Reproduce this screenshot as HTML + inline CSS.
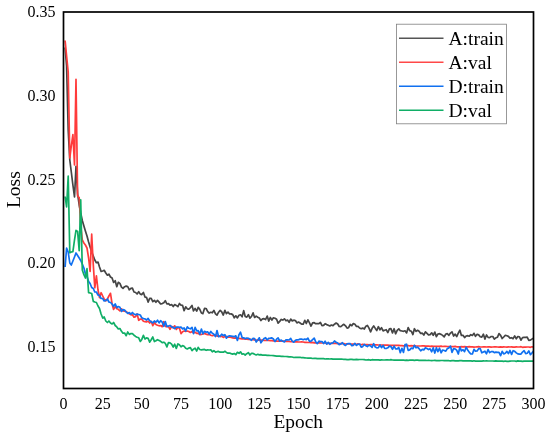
<!DOCTYPE html>
<html><head><meta charset="utf-8"><title>Loss</title>
<style>
html,body{margin:0;padding:0;background:#fff;}
svg{display:block;font-family:"Liberation Serif",serif;font-size:16px;fill:#000;}
</style></head><body>
<svg width="550" height="439" viewBox="0 0 550 439">
<rect x="0" y="0" width="550" height="439" fill="#ffffff"/>
<g>
<path d="M65.1 47.5 L66.6 66.0 L68.2 130.0 L69.8 160.0 L71.3 172.0 L72.9 185.0 L74.5 197.0 L76.0 166.4 L77.6 194.0 L79.2 205.0 L80.7 213.0 L82.3 220.5 L83.9 226.0 L85.4 231.0 L87.0 236.0 L88.6 242.0 L90.1 247.0 L91.7 252.0 L93.3 256.0 L94.8 260.0 L96.4 262.7 L98.0 262.1 L99.5 267.0 L101.1 271.4 L102.7 271.0 L104.2 270.3 L105.8 273.0 L107.4 275.2 L108.9 274.1 L110.5 277.0 L112.1 278.0 L113.6 282.5 L115.2 280.7 L116.8 286.7 L118.3 282.3 L119.9 283.4 L121.5 287.1 L123.0 288.4 L124.6 286.7 L126.2 286.1 L127.7 286.5 L129.3 289.8 L130.9 288.3 L132.4 288.1 L134.0 292.0 L135.6 292.5 L137.1 294.0 L138.7 291.7 L140.3 294.1 L141.8 294.6 L143.4 292.4 L145.0 297.1 L146.5 297.3 L148.1 302.1 L149.7 298.4 L151.2 298.3 L152.8 301.7 L154.4 300.3 L155.9 302.3 L157.5 300.4 L159.1 302.1 L160.6 304.0 L162.2 303.6 L163.8 302.8 L165.3 300.7 L166.9 304.0 L168.5 303.6 L170.0 305.2 L171.6 304.5 L173.2 306.5 L174.7 304.6 L176.3 305.4 L177.9 306.7 L179.4 303.5 L181.0 305.2 L182.6 305.4 L184.1 310.7 L185.7 306.9 L187.3 308.8 L188.8 309.1 L190.4 307.6 L192.0 305.5 L193.5 310.9 L195.1 308.5 L196.7 311.1 L198.2 307.4 L199.8 309.4 L201.4 313.0 L202.9 313.6 L204.5 308.4 L206.1 308.5 L207.6 311.4 L209.2 313.1 L210.8 312.3 L212.3 312.8 L213.9 310.4 L215.5 313.8 L217.0 315.1 L218.6 312.2 L220.2 310.3 L221.7 311.9 L223.3 315.1 L224.9 310.3 L226.4 313.7 L228.0 312.1 L229.6 314.0 L231.1 313.9 L232.7 314.6 L234.3 317.8 L235.8 315.8 L237.4 317.9 L239.0 315.2 L240.5 314.8 L242.1 316.8 L243.7 310.6 L245.2 316.5 L246.8 317.1 L248.4 314.6 L249.9 318.2 L251.5 316.5 L253.1 312.9 L254.6 317.5 L256.2 316.1 L257.8 317.2 L259.3 318.0 L260.9 320.5 L262.5 318.8 L264.0 318.7 L265.6 319.5 L267.2 316.1 L268.7 321.1 L270.3 317.5 L271.9 320.1 L273.4 317.8 L275.0 318.2 L276.6 319.3 L278.1 323.1 L279.7 321.4 L281.3 319.4 L282.8 320.1 L284.4 318.8 L286.0 320.8 L287.5 320.1 L289.1 322.3 L290.7 319.1 L292.2 320.9 L293.8 320.2 L295.4 320.5 L296.9 322.9 L298.5 322.1 L300.1 323.0 L301.6 324.1 L303.2 324.2 L304.8 320.3 L306.3 323.5 L307.9 319.9 L309.5 322.8 L311.0 326.1 L312.6 322.9 L314.2 322.7 L315.7 323.7 L317.3 323.6 L318.9 323.7 L320.4 322.5 L322.0 325.6 L323.6 325.4 L325.1 323.7 L326.7 324.6 L328.3 325.3 L329.8 326.0 L331.4 325.0 L333.0 325.6 L334.5 324.2 L336.1 323.0 L337.7 324.0 L339.2 326.5 L340.8 326.6 L342.4 325.3 L343.9 324.3 L345.5 325.8 L347.1 328.1 L348.6 327.7 L350.2 324.5 L351.8 325.7 L353.3 323.5 L354.9 324.2 L356.5 326.5 L358.0 326.4 L359.6 328.0 L361.2 328.7 L362.7 328.1 L364.3 329.0 L365.9 326.2 L367.4 325.4 L369.0 328.2 L370.6 331.8 L372.1 328.3 L373.7 326.0 L375.3 328.4 L376.8 330.5 L378.4 326.7 L380.0 329.8 L381.5 327.7 L383.1 330.9 L384.7 330.3 L386.2 329.7 L387.8 332.6 L389.4 328.9 L390.9 328.6 L392.5 332.9 L394.1 328.7 L395.6 333.8 L397.2 330.3 L398.8 328.9 L400.3 330.7 L401.9 331.0 L403.5 331.3 L405.0 330.8 L406.6 332.9 L408.2 327.6 L409.7 330.6 L411.3 331.2 L412.9 334.6 L414.4 328.7 L416.0 331.4 L417.6 330.3 L419.1 331.2 L420.7 333.4 L422.3 333.2 L423.8 335.0 L425.4 331.8 L427.0 333.4 L428.5 334.9 L430.1 334.6 L431.7 332.8 L433.2 335.3 L434.8 332.1 L436.4 336.6 L437.9 334.0 L439.5 333.7 L441.1 334.4 L442.6 335.4 L444.2 336.9 L445.8 334.0 L447.3 333.7 L448.9 335.3 L450.5 333.1 L452.0 331.8 L453.6 336.0 L455.2 334.1 L456.7 336.6 L458.3 333.2 L459.9 330.2 L461.4 335.4 L463.0 335.3 L464.6 337.6 L466.1 336.0 L467.7 335.7 L469.3 336.2 L470.8 334.7 L472.4 335.5 L474.0 333.3 L475.5 336.3 L477.1 334.3 L478.7 334.9 L480.2 336.8 L481.8 337.2 L483.4 334.2 L484.9 339.1 L486.5 335.0 L488.1 337.4 L489.6 337.6 L491.2 336.5 L492.8 336.5 L494.3 339.2 L495.9 337.8 L497.5 337.2 L499.0 333.6 L500.6 335.4 L502.2 338.5 L503.7 337.0 L505.3 335.3 L506.9 335.8 L508.4 336.4 L510.0 338.1 L511.6 337.7 L513.1 338.7 L514.7 335.9 L516.3 338.8 L517.8 336.5 L519.4 336.9 L521.0 340.2 L522.5 337.6 L524.1 337.4 L525.7 337.3 L527.2 337.1 L528.8 340.3 L530.4 340.1 L531.9 339.1 L533.5 338.3" fill="none" stroke="#454545" stroke-width="1.7" stroke-linejoin="round" stroke-linecap="butt"/>
<path d="M65.1 40.5 L66.6 56.0 L68.2 72.0 L69.8 158.0 L71.3 146.0 L72.9 134.6 L74.5 165.0 L76.0 79.3 L77.6 196.0 L79.2 197.6 L80.7 225.0 L82.3 240.0 L83.9 243.0 L85.4 245.0 L87.0 248.0 L88.6 258.0 L90.1 271.4 L91.7 234.2 L93.3 265.0 L94.8 287.8 L96.4 275.8 L98.0 290.0 L99.5 297.6 L101.1 292.7 L102.7 296.0 L104.2 299.0 L105.8 300.9 L107.4 299.0 L108.9 296.0 L110.5 293.3 L112.1 304.0 L113.6 309.4 L115.2 306.6 L116.8 308.8 L118.3 309.3 L119.9 310.9 L121.5 308.8 L123.0 310.9 L124.6 311.2 L126.2 311.6 L127.7 312.7 L129.3 313.9 L130.9 314.9 L132.4 314.8 L134.0 317.2 L135.6 316.6 L137.1 313.9 L138.7 320.3 L140.3 319.0 L141.8 319.2 L143.4 321.2 L145.0 321.7 L146.5 321.9 L148.1 321.2 L149.7 323.0 L151.2 321.3 L152.8 325.6 L154.4 322.6 L155.9 324.4 L157.5 325.2 L159.1 325.8 L160.6 325.5 L162.2 326.7 L163.8 321.6 L165.3 326.3 L166.9 326.6 L168.5 326.5 L170.0 329.3 L171.6 326.3 L173.2 327.8 L174.7 325.8 L176.3 329.4 L177.9 327.5 L179.4 328.1 L181.0 333.6 L182.6 331.7 L184.1 331.0 L185.7 331.5 L187.3 331.0 L188.8 331.5 L190.4 332.5 L192.0 331.5 L193.5 333.0 L195.1 332.2 L196.7 333.4 L198.2 333.1 L199.8 334.7 L201.4 334.5 L202.9 333.9 L204.5 333.4 L206.1 334.1 L207.6 334.6 L209.2 334.3 L210.8 335.2 L212.3 335.7 L213.9 335.3 L215.5 335.3 L217.0 336.1 L218.6 335.8 L220.2 336.6 L221.7 336.2 L223.3 337.4 L224.9 336.6 L226.4 336.4 L228.0 337.2 L229.6 337.0 L231.1 337.5 L232.7 337.8 L234.3 338.1 L235.8 337.9 L237.4 338.3 L239.0 338.4 L240.5 338.6 L242.1 338.8 L243.7 338.7 L245.2 339.1 L246.8 339.1 L248.4 339.3 L249.9 339.4 L251.5 339.5 L253.1 339.6 L254.6 339.8 L256.2 340.1 L257.8 340.0 L259.3 340.1 L260.9 340.1 L262.5 340.1 L264.0 340.3 L265.6 340.5 L267.2 340.2 L268.7 340.5 L270.3 340.6 L271.9 340.6 L273.4 340.8 L275.0 340.9 L276.6 341.1 L278.1 341.1 L279.7 341.2 L281.3 341.1 L282.8 341.2 L284.4 341.2 L286.0 341.3 L287.5 341.3 L289.1 341.5 L290.7 341.7 L292.2 341.6 L293.8 341.7 L295.4 341.8 L296.9 341.8 L298.5 342.0 L300.1 342.0 L301.6 341.9 L303.2 342.0 L304.8 342.3 L306.3 342.4 L307.9 342.5 L309.5 342.5 L311.0 342.6 L312.6 342.4 L314.2 342.9 L315.7 342.7 L317.3 343.0 L318.9 342.7 L320.4 342.9 L322.0 343.0 L323.6 343.0 L325.1 343.0 L326.7 343.3 L328.3 343.3 L329.8 343.3 L331.4 343.3 L333.0 343.3 L334.5 343.4 L336.1 343.4 L337.7 343.6 L339.2 343.7 L340.8 343.6 L342.4 343.6 L343.9 343.7 L345.5 344.0 L347.1 343.9 L348.6 344.0 L350.2 344.0 L351.8 344.1 L353.3 344.1 L354.9 344.3 L356.5 344.3 L358.0 343.9 L359.6 344.3 L361.2 344.7 L362.7 344.3 L364.3 344.5 L365.9 344.7 L367.4 344.6 L369.0 344.8 L370.6 344.5 L372.1 344.6 L373.7 344.8 L375.3 344.8 L376.8 344.8 L378.4 345.0 L380.0 345.0 L381.5 345.0 L383.1 345.0 L384.7 345.1 L386.2 345.1 L387.8 345.1 L389.4 345.3 L390.9 345.3 L392.5 345.3 L394.1 345.4 L395.6 345.3 L397.2 345.4 L398.8 345.4 L400.3 345.7 L401.9 345.6 L403.5 345.8 L405.0 345.8 L406.6 345.6 L408.2 345.6 L409.7 345.8 L411.3 345.7 L412.9 345.8 L414.4 345.7 L416.0 346.0 L417.6 346.0 L419.1 346.0 L420.7 346.0 L422.3 345.9 L423.8 345.8 L425.4 346.1 L427.0 346.0 L428.5 346.1 L430.1 346.3 L431.7 346.2 L433.2 346.4 L434.8 346.3 L436.4 346.4 L437.9 346.4 L439.5 346.4 L441.1 346.2 L442.6 346.5 L444.2 346.4 L445.8 346.3 L447.3 346.5 L448.9 346.5 L450.5 346.7 L452.0 346.6 L453.6 346.6 L455.2 346.4 L456.7 346.8 L458.3 346.8 L459.9 346.8 L461.4 346.7 L463.0 346.9 L464.6 346.6 L466.1 346.9 L467.7 346.8 L469.3 346.7 L470.8 346.9 L472.4 346.9 L474.0 347.1 L475.5 347.0 L477.1 346.8 L478.7 346.7 L480.2 347.0 L481.8 347.0 L483.4 346.9 L484.9 346.8 L486.5 347.0 L488.1 346.9 L489.6 346.9 L491.2 347.1 L492.8 347.0 L494.3 346.9 L495.9 346.9 L497.5 347.0 L499.0 347.2 L500.6 346.9 L502.2 347.2 L503.7 346.9 L505.3 347.0 L506.9 347.1 L508.4 346.9 L510.0 347.0 L511.6 346.8 L513.1 347.1 L514.7 347.1 L516.3 346.9 L517.8 347.0 L519.4 347.0 L521.0 346.7 L522.5 347.3 L524.1 347.1 L525.7 347.1 L527.2 347.0 L528.8 347.0 L530.4 347.3 L531.9 346.8 L533.5 347.0" fill="none" stroke="#ff3b3b" stroke-width="1.7" stroke-linejoin="round" stroke-linecap="butt"/>
<path d="M65.1 267.0 L66.6 248.0 L68.2 252.0 L69.8 263.0 L71.3 265.0 L72.9 261.0 L74.5 257.0 L76.0 253.0 L77.6 255.5 L79.2 258.0 L80.7 260.5 L82.3 264.0 L83.9 268.0 L85.4 274.0 L87.0 276.5 L88.6 281.5 L90.1 283.5 L91.7 287.5 L93.3 288.5 L94.8 292.0 L96.4 292.0 L98.0 295.0 L99.5 295.5 L101.1 298.5 L102.7 298.5 L104.2 301.0 L105.8 300.5 L107.4 299.0 L108.9 302.0 L110.5 302.5 L112.1 304.0 L113.6 306.4 L115.2 303.9 L116.8 307.6 L118.3 306.5 L119.9 307.3 L121.5 311.4 L123.0 309.6 L124.6 310.1 L126.2 312.0 L127.7 313.4 L129.3 312.5 L130.9 314.1 L132.4 312.5 L134.0 314.1 L135.6 314.7 L137.1 314.1 L138.7 314.5 L140.3 315.0 L141.8 317.8 L143.4 318.6 L145.0 318.9 L146.5 320.0 L148.1 318.4 L149.7 320.7 L151.2 321.7 L152.8 322.9 L154.4 321.0 L155.9 322.2 L157.5 320.2 L159.1 322.9 L160.6 320.7 L162.2 322.2 L163.8 326.3 L165.3 321.6 L166.9 326.5 L168.5 326.1 L170.0 325.4 L171.6 326.9 L173.2 327.4 L174.7 328.6 L176.3 327.1 L177.9 327.0 L179.4 327.4 L181.0 327.2 L182.6 328.9 L184.1 328.0 L185.7 331.0 L187.3 326.9 L188.8 328.3 L190.4 328.8 L192.0 327.3 L193.5 333.6 L195.1 327.4 L196.7 330.8 L198.2 330.7 L199.8 334.2 L201.4 329.0 L202.9 333.8 L204.5 331.3 L206.1 332.3 L207.6 331.8 L209.2 334.0 L210.8 331.5 L212.3 333.3 L213.9 334.2 L215.5 336.6 L217.0 330.5 L218.6 336.7 L220.2 336.0 L221.7 334.2 L223.3 335.6 L224.9 334.7 L226.4 338.1 L228.0 336.2 L229.6 335.8 L231.1 336.1 L232.7 336.4 L234.3 336.7 L235.8 335.8 L237.4 340.4 L239.0 334.6 L240.5 332.2 L242.1 337.6 L243.7 337.8 L245.2 338.7 L246.8 338.0 L248.4 338.3 L249.9 339.2 L251.5 340.3 L253.1 338.3 L254.6 338.5 L256.2 342.0 L257.8 340.0 L259.3 337.8 L260.9 342.8 L262.5 340.5 L264.0 338.5 L265.6 337.7 L267.2 340.0 L268.7 338.3 L270.3 338.1 L271.9 337.8 L273.4 339.0 L275.0 341.5 L276.6 339.2 L278.1 337.8 L279.7 341.0 L281.3 340.1 L282.8 341.3 L284.4 341.9 L286.0 339.8 L287.5 339.9 L289.1 340.0 L290.7 338.4 L292.2 341.1 L293.8 342.2 L295.4 340.4 L296.9 339.8 L298.5 339.8 L300.1 339.1 L301.6 339.0 L303.2 339.7 L304.8 339.0 L306.3 339.6 L307.9 338.1 L309.5 341.3 L311.0 341.1 L312.6 339.6 L314.2 338.1 L315.7 341.9 L317.3 343.7 L318.9 341.1 L320.4 341.6 L322.0 341.5 L323.6 343.5 L325.1 341.2 L326.7 344.2 L328.3 342.4 L329.8 344.3 L331.4 343.1 L333.0 342.8 L334.5 341.0 L336.1 342.3 L337.7 343.1 L339.2 344.6 L340.8 344.0 L342.4 342.7 L343.9 344.5 L345.5 345.5 L347.1 343.9 L348.6 343.5 L350.2 343.7 L351.8 345.6 L353.3 345.3 L354.9 343.3 L356.5 345.4 L358.0 344.3 L359.6 344.0 L361.2 347.1 L362.7 346.6 L364.3 344.5 L365.9 345.8 L367.4 346.6 L369.0 345.0 L370.6 345.9 L372.1 347.3 L373.7 343.7 L375.3 347.1 L376.8 347.8 L378.4 347.6 L380.0 345.0 L381.5 347.7 L383.1 345.5 L384.7 348.3 L386.2 348.5 L387.8 347.8 L389.4 346.1 L390.9 346.5 L392.5 349.3 L394.1 346.1 L395.6 348.8 L397.2 348.9 L398.8 347.5 L400.3 352.7 L401.9 348.3 L403.5 352.4 L405.0 344.6 L406.6 344.2 L408.2 350.4 L409.7 349.9 L411.3 348.1 L412.9 348.7 L414.4 345.3 L416.0 347.8 L417.6 347.1 L419.1 348.7 L420.7 350.8 L422.3 349.3 L423.8 349.9 L425.4 347.9 L427.0 348.5 L428.5 349.6 L430.1 348.8 L431.7 351.8 L433.2 347.8 L434.8 353.1 L436.4 347.7 L437.9 351.6 L439.5 348.2 L441.1 352.8 L442.6 350.0 L444.2 350.5 L445.8 351.2 L447.3 348.6 L448.9 347.9 L450.5 346.1 L452.0 352.3 L453.6 348.7 L455.2 349.0 L456.7 350.1 L458.3 354.0 L459.9 347.0 L461.4 350.9 L463.0 349.7 L464.6 351.6 L466.1 347.2 L467.7 350.0 L469.3 352.4 L470.8 353.8 L472.4 354.0 L474.0 349.4 L475.5 351.2 L477.1 351.0 L478.7 348.6 L480.2 348.6 L481.8 352.8 L483.4 351.9 L484.9 351.2 L486.5 353.8 L488.1 349.6 L489.6 352.6 L491.2 351.6 L492.8 351.5 L494.3 352.6 L495.9 352.1 L497.5 352.3 L499.0 352.3 L500.6 355.6 L502.2 351.3 L503.7 353.9 L505.3 353.2 L506.9 351.4 L508.4 353.6 L510.0 350.5 L511.6 354.4 L513.1 350.7 L514.7 351.3 L516.3 352.9 L517.8 353.9 L519.4 354.1 L521.0 354.1 L522.5 352.1 L524.1 350.7 L525.7 353.6 L527.2 353.2 L528.8 350.9 L530.4 354.6 L531.9 353.1 L533.5 351.0" fill="none" stroke="#1070f0" stroke-width="1.7" stroke-linejoin="round" stroke-linecap="butt"/>
<path d="M65.1 196.5 L66.6 207.0 L68.2 176.2 L69.8 252.8 L71.3 252.0 L72.9 251.7 L74.5 240.0 L76.0 230.4 L77.6 231.5 L79.2 250.6 L80.7 199.8 L82.3 270.0 L83.9 274.7 L85.4 278.0 L87.0 268.7 L88.6 292.7 L90.1 293.0 L91.7 293.5 L93.3 301.4 L94.8 302.0 L96.4 302.5 L98.0 306.0 L99.5 308.5 L101.1 314.0 L102.7 318.0 L104.2 317.0 L105.8 321.0 L107.4 322.5 L108.9 321.0 L110.5 323.0 L112.1 324.0 L113.6 322.5 L115.2 325.5 L116.8 326.9 L118.3 328.9 L119.9 328.5 L121.5 331.3 L123.0 333.2 L124.6 333.0 L126.2 335.7 L127.7 332.0 L129.3 334.4 L130.9 333.5 L132.4 333.7 L134.0 335.2 L135.6 336.4 L137.1 337.2 L138.7 337.8 L140.3 341.4 L141.8 339.4 L143.4 335.4 L145.0 339.0 L146.5 337.9 L148.1 338.4 L149.7 342.1 L151.2 339.7 L152.8 337.0 L154.4 341.5 L155.9 340.8 L157.5 339.7 L159.1 340.5 L160.6 341.3 L162.2 342.7 L163.8 342.2 L165.3 343.4 L166.9 346.9 L168.5 342.5 L170.0 342.9 L171.6 344.2 L173.2 347.0 L174.7 344.2 L176.3 348.4 L177.9 343.9 L179.4 344.8 L181.0 346.8 L182.6 345.6 L184.1 346.2 L185.7 348.3 L187.3 349.0 L188.8 348.1 L190.4 347.6 L192.0 350.7 L193.5 349.2 L195.1 348.2 L196.7 351.0 L198.2 347.4 L199.8 349.5 L201.4 349.9 L202.9 349.6 L204.5 349.4 L206.1 350.3 L207.6 349.9 L209.2 350.0 L210.8 349.9 L212.3 351.8 L213.9 350.7 L215.5 352.1 L217.0 351.7 L218.6 351.4 L220.2 352.2 L221.7 352.1 L223.3 352.2 L224.9 351.3 L226.4 352.4 L228.0 353.2 L229.6 353.0 L231.1 353.6 L232.7 354.1 L234.3 353.5 L235.8 354.7 L237.4 352.3 L239.0 353.3 L240.5 351.8 L242.1 354.2 L243.7 353.8 L245.2 355.0 L246.8 353.7 L248.4 352.6 L249.9 355.0 L251.5 353.3 L253.1 353.4 L254.6 354.3 L256.2 355.0 L257.8 354.3 L259.3 354.9 L260.9 354.6 L262.5 355.2 L264.0 355.1 L265.6 355.2 L267.2 355.4 L268.7 355.4 L270.3 355.5 L271.9 355.5 L273.4 355.7 L275.0 355.9 L276.6 356.1 L278.1 356.1 L279.7 356.2 L281.3 356.3 L282.8 356.4 L284.4 356.5 L286.0 356.5 L287.5 356.6 L289.1 356.9 L290.7 356.9 L292.2 357.0 L293.8 357.5 L295.4 357.3 L296.9 357.4 L298.5 357.4 L300.1 357.3 L301.6 357.7 L303.2 357.7 L304.8 357.8 L306.3 358.0 L307.9 358.1 L309.5 358.1 L311.0 358.2 L312.6 358.5 L314.2 358.4 L315.7 358.3 L317.3 358.6 L318.9 358.6 L320.4 358.6 L322.0 358.7 L323.6 358.7 L325.1 359.0 L326.7 358.8 L328.3 358.9 L329.8 359.0 L331.4 358.8 L333.0 359.1 L334.5 359.0 L336.1 359.2 L337.7 359.0 L339.2 359.2 L340.8 359.0 L342.4 359.2 L343.9 359.3 L345.5 359.4 L347.1 359.6 L348.6 359.6 L350.2 359.3 L351.8 359.4 L353.3 359.7 L354.9 359.6 L356.5 359.4 L358.0 359.6 L359.6 359.5 L361.2 359.5 L362.7 359.5 L364.3 359.6 L365.9 360.0 L367.4 359.8 L369.0 359.7 L370.6 360.1 L372.1 359.7 L373.7 359.8 L375.3 359.8 L376.8 359.9 L378.4 359.8 L380.0 360.1 L381.5 359.9 L383.1 360.0 L384.7 360.0 L386.2 359.9 L387.8 359.9 L389.4 360.0 L390.9 359.7 L392.5 360.0 L394.1 360.1 L395.6 360.1 L397.2 360.1 L398.8 360.1 L400.3 360.1 L401.9 360.2 L403.5 360.0 L405.0 360.3 L406.6 360.1 L408.2 360.3 L409.7 360.2 L411.3 360.2 L412.9 360.2 L414.4 360.4 L416.0 360.2 L417.6 360.2 L419.1 360.4 L420.7 360.4 L422.3 360.4 L423.8 360.3 L425.4 360.3 L427.0 360.5 L428.5 360.3 L430.1 360.5 L431.7 360.6 L433.2 360.5 L434.8 360.4 L436.4 360.7 L437.9 360.6 L439.5 360.6 L441.1 360.5 L442.6 360.5 L444.2 360.6 L445.8 360.6 L447.3 360.5 L448.9 360.7 L450.5 360.8 L452.0 360.7 L453.6 360.7 L455.2 360.9 L456.7 360.9 L458.3 360.9 L459.9 360.7 L461.4 360.6 L463.0 360.9 L464.6 360.8 L466.1 360.8 L467.7 360.9 L469.3 360.8 L470.8 360.8 L472.4 361.1 L474.0 360.7 L475.5 361.1 L477.1 361.1 L478.7 361.2 L480.2 361.0 L481.8 361.1 L483.4 360.9 L484.9 361.0 L486.5 360.8 L488.1 361.0 L489.6 361.0 L491.2 361.0 L492.8 361.0 L494.3 361.2 L495.9 360.9 L497.5 361.1 L499.0 361.0 L500.6 361.1 L502.2 361.1 L503.7 361.3 L505.3 361.0 L506.9 361.3 L508.4 361.3 L510.0 361.1 L511.6 361.0 L513.1 361.0 L514.7 361.0 L516.3 361.4 L517.8 360.9 L519.4 361.2 L521.0 361.1 L522.5 361.4 L524.1 361.2 L525.7 361.0 L527.2 361.1 L528.8 361.2 L530.4 361.2 L531.9 361.1 L533.5 361.2" fill="none" stroke="#10ae66" stroke-width="1.7" stroke-linejoin="round" stroke-linecap="butt"/>
</g>
<rect x="63.5" y="12" width="470" height="376.5" fill="none" stroke="#000" stroke-width="1.7"/>
<g>
<text x="55.4" y="17.0" text-anchor="end">0.35</text>
<text x="55.4" y="100.8" text-anchor="end">0.30</text>
<text x="55.4" y="184.5" text-anchor="end">0.25</text>
<text x="55.4" y="268.2" text-anchor="end">0.20</text>
<text x="55.4" y="352.0" text-anchor="end">0.15</text>
<text x="63.5" y="408.9" text-anchor="middle">0</text>
<text x="102.7" y="408.9" text-anchor="middle">25</text>
<text x="141.8" y="408.9" text-anchor="middle">50</text>
<text x="181.0" y="408.9" text-anchor="middle">75</text>
<text x="220.2" y="408.9" text-anchor="middle">100</text>
<text x="259.3" y="408.9" text-anchor="middle">125</text>
<text x="298.5" y="408.9" text-anchor="middle">150</text>
<text x="337.7" y="408.9" text-anchor="middle">175</text>
<text x="376.8" y="408.9" text-anchor="middle">200</text>
<text x="416.0" y="408.9" text-anchor="middle">225</text>
<text x="455.2" y="408.9" text-anchor="middle">250</text>
<text x="494.3" y="408.9" text-anchor="middle">275</text>
<text x="533.5" y="408.9" text-anchor="middle">300</text>
</g>
<text x="298.3" y="428.1" text-anchor="middle" font-size="19.4">Epoch</text>
<text transform="translate(19.7,189.7) rotate(-90)" text-anchor="middle" font-size="19.5">Loss</text>
<rect x="396.4" y="24.2" width="110.1" height="99.6" fill="#fff" stroke="#7f7f7f" stroke-width="0.8"/>
<line x1="399" y1="38.2" x2="443.5" y2="38.2" stroke="#555555" stroke-width="1.6"/>
<text x="448.5" y="44.7" font-size="19.5">A:train</text>
<line x1="399" y1="62.2" x2="443.5" y2="62.2" stroke="#ff4848" stroke-width="1.6"/>
<text x="448.5" y="68.7" font-size="19.5">A:val</text>
<line x1="399" y1="86.2" x2="443.5" y2="86.2" stroke="#1070f0" stroke-width="1.6"/>
<text x="448.5" y="92.7" font-size="19.5">D:train</text>
<line x1="399" y1="110.2" x2="443.5" y2="110.2" stroke="#10ae66" stroke-width="1.6"/>
<text x="448.5" y="116.7" font-size="19.5">D:val</text>
</svg>
</body></html>
